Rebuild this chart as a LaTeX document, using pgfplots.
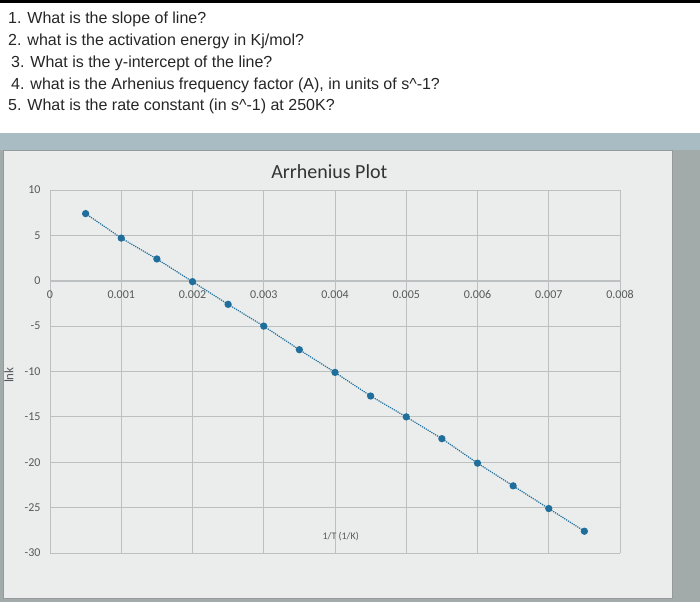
\documentclass[border=0pt]{standalone}
\usepackage{pgfplots}
\pgfplotsset{compat=1.18}
\usepackage{fontspec}
\setmainfont{Liberation Sans}
\newfontfamily\calib{Carlito}
\definecolor{gridgray}{HTML}{BCC0C0}
\definecolor{ptblue}{HTML}{1F6E9C}
\definecolor{chartbg}{HTML}{EAEDEB}
\definecolor{framegray}{HTML}{A3AAAA}
\definecolor{stripe}{HTML}{A9BCC4}
\definecolor{ticktext}{HTML}{555A5A}
\begin{document}
\begin{tikzpicture}[x=1pt,y=1pt]
\begin{scope}[shift={(-50pt,280.75pt)}]
\useasboundingbox (0,0) rectangle (700,-610);
\fill[white] (0,0) rectangle (700,-610);
\fill[black] (0,0) rectangle (700,-3.5);
% question text
\begin{scope}[every node/.style={anchor=base west,inner sep=0pt,font=\fontsize{16}{18}\selectfont,text=black!85}]
\node at (8,-24) {1. What is the slope of line?};
\node at (8,-46) {2. what is the activation energy in Kj/mol?};
\node at (11,-68) {3. What is the y-intercept of the line?};
\node at (11,-90) {4. what is the Arhenius frequency factor (A), in units of s\^{}-1?};
\node at (8,-111) {5. What is the rate constant (in s\^{}-1) at 250K?};
\end{scope}
% photo background
\fill[framegray] (0,-133) rectangle (700,-602);
\fill[stripe] (0,-133) rectangle (700,-150);
\fill[chartbg] (3,-150) rectangle (672,-598);
\draw[gridgray!80!black, line width=0.6pt] (3,-150) rectangle (672,-598);
\end{scope}
\begin{axis}[
  at={(0,0)}, anchor=origin,
  scale only axis, width=570pt, height=363pt,
  xmin=0, xmax=0.008, ymin=-30, ymax=10,
  axis x line=middle, axis y line=left,
  axis line style={draw=gridgray,-},
  hide obscured x ticks=false, hide obscured y ticks=false,
  scaled x ticks=false, scaled y ticks=false,
  xtick={0,0.001,0.002,0.003,0.004,0.005,0.006,0.007,0.008},
  xticklabels={0,0.001,0.002,0.003,0.004,0.005,0.006,0.007,0.008},
  ytick={-30,-25,-20,-15,-10,-5,0,5,10},
  yticklabels={-30,-25,-20,-15,-10,-5,0,5,10},
  major tick length=0pt,
  grid=major,
  major grid style={draw=gridgray,line width=0.8pt},
  ticklabel style={font=\calib\fontsize{12}{14}\selectfont,text=ticktext},
  x tick label style={anchor=north,yshift=-6pt},
  y tick label style={anchor=east,xshift=-6pt},
  title={Arrhenius Plot},
  title style={font=\calib\fontsize{20}{24}\selectfont,text=black!80,at={(axis description cs:0.49,1.0)},anchor=south,yshift=2pt},
  ylabel={lnk},
  ylabel style={font=\calib\fontsize{13}{15}\selectfont,text=ticktext,at={(axis description cs:-0.072,0.49)},rotate=0,anchor=center},
  xlabel={1/T (1/K)},
  xlabel style={font=\calib\fontsize{10}{12}\selectfont,text=ticktext,at={(axis description cs:0.51,0.045)},anchor=center},
  clip=false,
]
\addplot[color=ptblue, densely dotted, line width=1.2pt, mark=*, mark size=3pt, mark options={solid,fill=ptblue,draw=ptblue}]
coordinates {
(0.0005,7.4) (0.0010,4.7) (0.0015,2.4) (0.0020,-0.1) (0.0025,-2.6)
(0.0030,-5.0) (0.0035,-7.6) (0.0040,-10.1) (0.0045,-12.7) (0.0050,-15.0)
(0.0055,-17.4) (0.0060,-20.1) (0.0065,-22.6) (0.0070,-25.1) (0.0075,-27.6)
};
\end{axis}
\end{tikzpicture}
\end{document}
